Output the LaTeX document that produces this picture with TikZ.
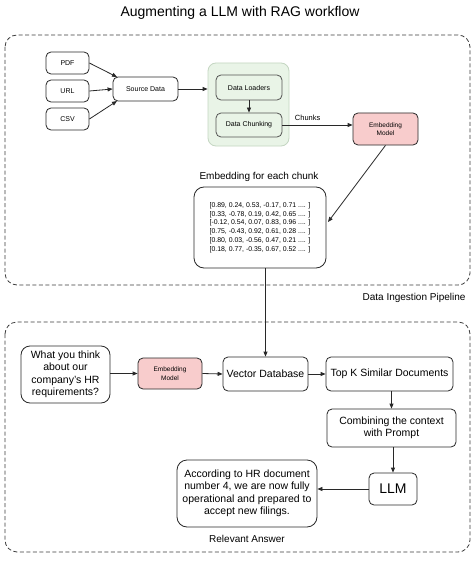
\documentclass[tikz,border=0pt]{standalone}
\usepackage{fontspec}
\setmainfont{Liberation Sans}
\usetikzlibrary{arrows.meta}
\definecolor{linec}{RGB}{40,40,40}
\definecolor{pinkf}{RGB}{248,204,204}
\definecolor{greenf}{RGB}{233,244,231}
\definecolor{greenb}{RGB}{196,214,194}
\begin{document}
\begin{tikzpicture}[x=1pt,y=-1pt,
  box/.style={draw=linec,line width=0.8pt,rounded corners=5pt,align=center,inner sep=1pt},
  sbox/.style={box,font=\fontsize{7}{8.5}\selectfont},
  bbox/.style={box,font=\fontsize{10.5}{12.5}\selectfont},
  pinkbox/.style={box,fill=pinkf,font=\fontsize{6.5}{8.5}\selectfont},
  arr/.style={draw=linec,line width=0.8pt,-{Triangle[length=5pt,width=4pt]}},
  dbox/.style={draw=linec!90,line width=0.8pt,dash pattern=on 4pt off 2.5pt,rounded corners=12pt}]
\useasboundingbox (0,0) rectangle (474,567);
\fill[white] (0,0) rectangle (474,567);
\node[font=\fontsize{14}{16}\selectfont] (title) at (240,13) {Augmenting a LLM with RAG workflow};
% dashed containers
\draw[dbox] (5,35) rectangle (470,285);
\draw[dbox] (5,322) rectangle (470,552);
\node[anchor=east,font=\fontsize{10}{12}\selectfont] (dip) at (469,298) {Data Ingestion Pipeline};
% top section
\node[sbox,minimum width=43pt,minimum height=22pt] (pdf) at (67.5,63) {PDF};
\node[sbox,minimum width=43pt,minimum height=22pt] (url) at (67.5,91) {URL};
\node[sbox,minimum width=43pt,minimum height=22pt] (csv) at (67.5,119) {CSV};
\node[sbox,minimum width=65pt,minimum height=24pt] (src) at (145.5,89) {Source Data};
\node[draw=greenb,fill=greenf,line width=0.8pt,rounded corners=8pt,minimum width=81pt,minimum height=83pt] (grp) at (248.5,104.5) {};
\node[sbox,draw=linec!80,minimum width=66pt,minimum height=25pt] (load) at (249,87.5) {Data Loaders};
\node[sbox,draw=linec!80,minimum width=66pt,minimum height=24pt] (chunk) at (249,125) {Data Chunking};
\node[pinkbox,minimum width=65pt,minimum height=32pt] (emb1) at (385.5,129) {Embedding\\Model};
\node[font=\fontsize{10}{12}\selectfont] (embt) at (259,177) {Embedding for each chunk};
\node[box,rounded corners=10pt,minimum width=132pt,minimum height=81pt,font=\fontsize{6.9}{8.8}\selectfont] (vecs) at (260,227.5) {{[0.89, 0.24, 0.53, -0.17, 0.71 .... ]}\\{[0.33, -0.78, 0.19, 0.42, 0.65 .... ]}\\{[-0.12, 0.54, 0.07, 0.83, 0.96 .... ]}\\{[0.75, -0.43, 0.92, 0.61, 0.28 .... ]}\\{[0.80, 0.03, -0.56, 0.47, 0.21 .... ]}\\{[0.18, 0.77, -0.35, 0.67, 0.52 .... ]}};
\coordinate (pdfto) at (117,77);
\coordinate (csvto) at (117,101);
\draw[arr] (pdf.east) -- (pdfto);
\draw[arr] (url.east) -- (src.west);
\draw[arr] (csv.east) -- (csvto);
\draw[arr] (src.east) -- (grp.west |- src.east);
\draw[arr] (load.south) -- (chunk.north);
\draw[arr] (chunk.east) -- node[pos=0.36,above=1pt,font=\fontsize{7.5}{9}\selectfont] {Chunks} (emb1.west |- chunk.east);
\coordinate (vin) at (328,222);
\draw[arr] (emb1.south) -- (vin);
% bottom section
\node[bbox,rounded corners=9pt,minimum width=89pt,minimum height=57pt] (q) at (65.5,374.5) {What you think\\about our\\company's HR\\requirements?};
\node[pinkbox,minimum width=64pt,minimum height=31pt] (emb2) at (170,373.5) {Embedding\\Model};
\node[bbox,minimum width=85pt,minimum height=34pt] (vdb) at (265.5,374) {Vector Database};
\node[bbox,minimum width=127pt,minimum height=34pt] (topk) at (389.5,374) {Top K Similar Documents};
\node[bbox,minimum width=129pt,minimum height=38pt] (comb) at (391.5,428) {Combining the context\\with Prompt};
\node[box,font=\fontsize{14}{16}\selectfont,minimum width=48pt,minimum height=32pt] (llm) at (393,489) {LLM};
\node[bbox,rounded corners=10pt,minimum width=140pt,minimum height=67pt] (ans) at (247,493.5) {According to HR document\\number 4, we are now fully\\operational and prepared to\\accept new filings.};
\node[font=\fontsize{10}{12}\selectfont] (rel) at (247,539) {Relevant Answer};
\draw[arr] (vecs.south -| vdb.north) -- (vdb.north);
\draw[arr] (q.east |- emb2.west) -- (emb2.west);
\draw[arr] (emb2.east) -- (vdb.west);
\draw[arr] (vdb.east) -- (topk.west);
\draw[arr] (topk.south -| comb.north) -- (comb.north);
\draw[arr] (comb.south -| llm.north) -- (llm.north);
\draw[arr] (llm.west) -- (ans.east |- llm.west);
\end{tikzpicture}
\end{document}
